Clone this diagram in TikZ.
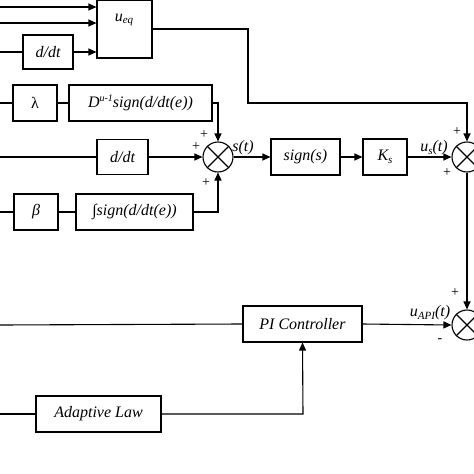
\documentclass[tikz,border=0pt]{standalone}
\usepackage{fontspec}
\setmainfont{Liberation Serif}
\usetikzlibrary{arrows.meta}
\begin{document}
\begin{tikzpicture}[x=1pt,y=-1pt,
  every node/.style={font=\fontsize{16}{18}\selectfont\itshape},
  blk/.style={draw,line width=1.1pt,rectangle,inner sep=0pt},
  sumnode/.style={draw,line width=1.1pt,circle,minimum size=30pt,inner sep=0pt},
  ln/.style={line width=1.1pt},
  arr/.style={line width=1.1pt,-{Triangle[length=8pt,width=7pt]}},
  sgn/.style={font=\fontsize{14}{15}\selectfont\upshape,inner sep=0pt},
  lbl/.style={inner sep=0pt}]
\useasboundingbox (0,0) rectangle (474,474);
% blocks
\node[blk,minimum width=55pt,minimum height=58pt] (ueq) at (124.5,29) {};
\node[lbl] (ueqt) at (124,20) {u\raisebox{-0.35ex}{\fontsize{11}{12}\selectfont eq}};
\node[blk,minimum width=50pt,minimum height=34pt] (ddt1) at (48,52) {d/dt};
\node[blk,minimum width=44pt,minimum height=36pt] (lam) at (35,103) {\upshape λ};
\node[blk,minimum width=143pt,minimum height=36pt] (dfr) at (140.5,103) {D\raisebox{0.9ex}{\fontsize{10}{11}\selectfont u-1}sign(d/dt(e))};
\node[blk,minimum width=51pt,minimum height=35pt] (ddt2) at (122.5,157) {d/dt};
\node[blk,minimum width=44pt,minimum height=36pt] (bet) at (36,212) {β};
\node[blk,minimum width=117pt,minimum height=36pt] (intb) at (134.5,212) {∫sign(d/dt(e))};
\node[sumnode] (s1) at (218,157) {};
\node[blk,minimum width=69pt,minimum height=36pt] (sgnb) at (305.5,157) {sign(s)};
\node[blk,minimum width=44pt,minimum height=36pt] (ks) at (385,157) {K\raisebox{-0.35ex}{\fontsize{11}{12}\selectfont s}};
\node[sumnode] (s2) at (467,157) {};
\node[sumnode] (s3) at (467,325) {};
\node[blk,minimum width=119pt,minimum height=36pt] (pi) at (302.5,324) {PI Controller};
\node[blk,minimum width=125pt,minimum height=36pt] (adl) at (98.5,414) {Adaptive Law};
% crosses
\foreach \s in {s1,s2,s3}{
  \draw[ln] (\s.45) -- (\s.225) (\s.135) -- (\s.315);
}
% coordinates
\coordinate (i1) at (0,7);
\coordinate (i2) at (0,23);
\coordinate (i3) at (0,52);
\coordinate (i4) at (0,103);
\coordinate (i5) at (0,157);
\coordinate (i6) at (0,212);
\coordinate (i7) at (0,325);
\coordinate (i8) at (0,414);
% connectors
\draw[arr] (i1) -- (i1 -| ueq.west);
\draw[arr] (i2) -- (i2 -| ueq.west);
\draw[ln] (i3) -- (ddt1.west);
\draw[arr] (ddt1.east) -- (ddt1.east -| ueq.west);
\draw[arr] (ueq.east |- 0,29) -- (248,29) -- (248,103) -- (467,103) -- (s2.north);
\draw[ln] (i4) -- (lam.west);
\draw[ln] (lam.east) -- (dfr.west);
\draw[arr] (dfr.east) -- (218,103) -- (s1.north);
\draw[ln] (i5) -- (ddt2.west);
\draw[arr] (ddt2.east) -- (s1.west);
\draw[ln] (i6) -- (bet.west);
\draw[ln] (bet.east) -- (intb.west);
\draw[arr] (intb.east) -- (218,212) -- (s1.south);
\draw[arr] (s1.east) -- (sgnb.west);
\draw[arr] (sgnb.east) -- (ks.west);
\draw[arr] (ks.east) -- (s2.west);
\draw[arr] (s2.south) -- (s3.north);
\draw[ln] (i7) -- (pi.west);
\draw[arr] (pi.east) -- (s3.west);
\draw[ln] (i8) -- (adl.west);
\draw[arr] (adl.east) -- (303,414) -- (pi.south);
% signs
\node[sgn] (p1) at (204,135) {+};
\node[sgn] (p2) at (196,147) {+};
\node[sgn] (p3) at (206,183) {+};
\node[sgn] (p4) at (457,132) {+};
\node[sgn] (p5) at (447,173) {+};
\node[sgn] (p6) at (455,293) {+};
\node[sgn] (m1) at (440,341) {-};
% signal labels
\node[lbl] (lst) at (243,148) {s(t)};
\node[lbl] (lus) at (434,148) {u\raisebox{-0.35ex}{\fontsize{11}{12}\selectfont s}(t)};
\node[lbl] (lua) at (430,313) {u\raisebox{-0.35ex}{\fontsize{11}{12}\selectfont API}(t)};
\end{tikzpicture}
\end{document}
